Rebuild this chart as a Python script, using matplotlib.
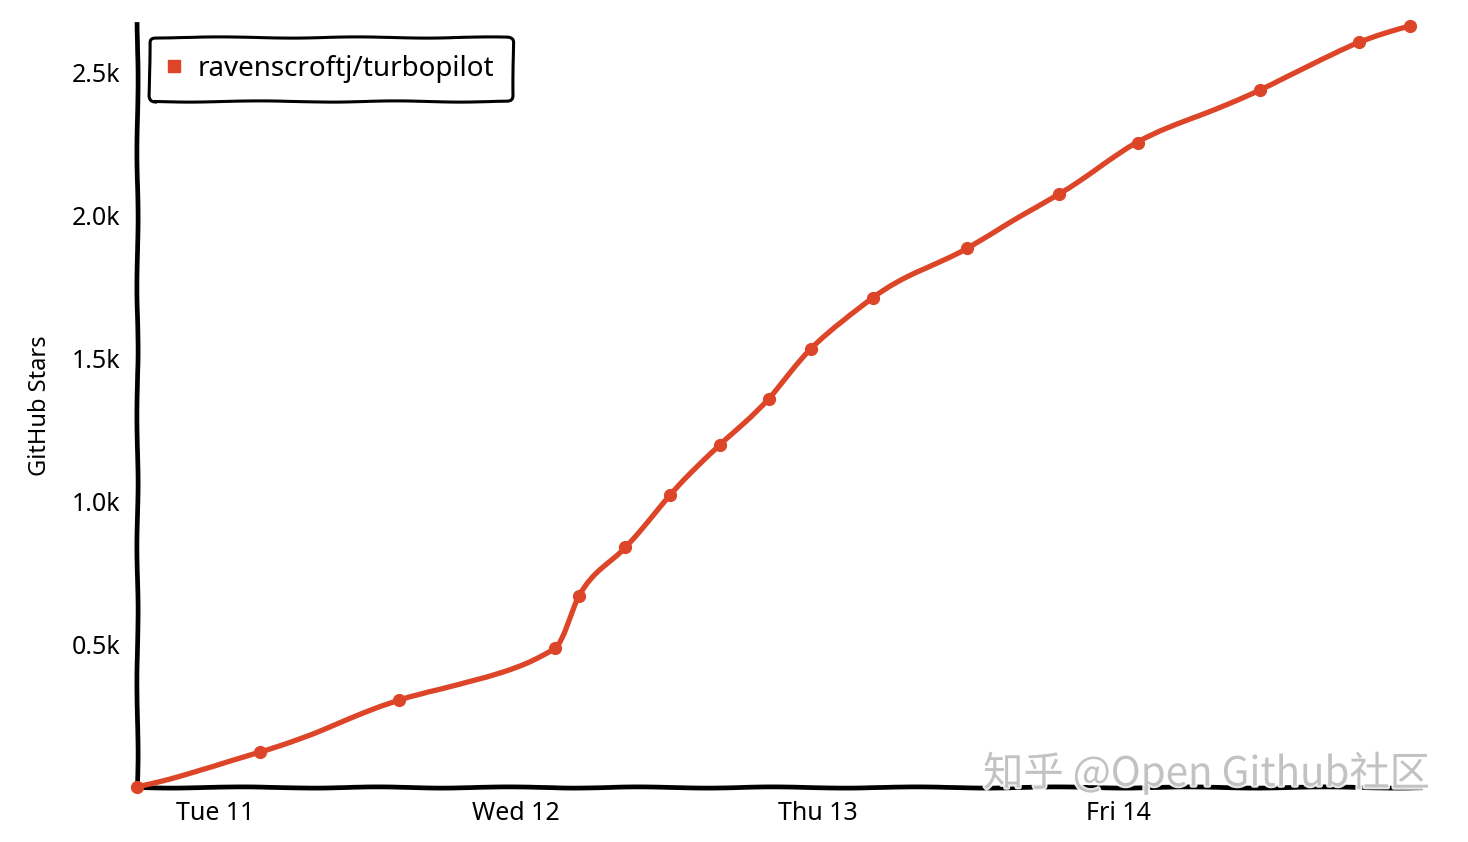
import matplotlib
matplotlib.use('Agg')
import matplotlib.pyplot as plt
import matplotlib.dates as mdates
import matplotlib.patheffects as pe
from matplotlib.path import Path
from matplotlib.patches import PathPatch
import numpy as np
import pandas as pd

# 数据（从图上读出来的）
dates = ['2023-04-10 17:47', '2023-04-11 03:35', '2023-04-11 14:40',
         '2023-04-12 03:03', '2023-04-12 05:02', '2023-04-12 08:42',
         '2023-04-12 12:17', '2023-04-12 16:12', '2023-04-12 20:09',
         '2023-04-12 23:30', '2023-04-13 04:26', '2023-04-13 11:53',
         '2023-04-13 19:15', '2023-04-14 01:30', '2023-04-14 11:17',
         '2023-04-14 19:09', '2023-04-14 23:14']
stars = [0, 121, 304, 487, 668, 840, 1021, 1198, 1359, 1534, 1712,
         1886, 2076, 2254, 2437, 2606, 2661]
repo = 'ravenscroftj/turbopilot'
y_ticks = [500, 1000, 1500, 2000, 2500]
y_labels = ['0.5k', '1.0k', '1.5k', '2.0k', '2.5k']
x_end = '2023-04-14 23:58'
y_top = 2668

red = '#dd4528'


# 跟 d3 的 curveMonotoneX 一样画平滑曲线（只算贝塞尔控制点）
def monotone_path(xs, ys):
    xs = np.asarray(xs, float)
    ys = np.asarray(ys, float)
    n = len(xs)
    h = np.diff(xs)
    s = np.diff(ys) / h
    t = np.zeros(n)
    for i in range(1, n - 1):
        p = (s[i - 1] * h[i] + s[i] * h[i - 1]) / (h[i - 1] + h[i])
        t[i] = (np.sign(s[i - 1]) + np.sign(s[i])) * min(abs(s[i - 1]), abs(s[i]), 0.5 * abs(p))
    t[0] = (3 * s[0] - t[1]) / 2
    t[-1] = (3 * s[-1] - t[-2]) / 2
    verts = [(xs[0], ys[0])]
    codes = [Path.MOVETO]
    for i in range(n - 1):
        dx = h[i] / 3
        verts += [(xs[i] + dx, ys[i] + dx * t[i]),
                  (xs[i + 1] - dx, ys[i + 1] - dx * t[i + 1]),
                  (xs[i + 1], ys[i + 1])]
        codes += [Path.CURVE4] * 3
    return Path(verts, codes)


with plt.xkcd(scale=0.6, length=150, randomness=2):
    plt.rcParams['font.family'] = ['Noto Sans', 'DejaVu Sans']
    plt.rcParams['path.effects'] = []

    fig = plt.figure(figsize=(14.68, 8.42), dpi=100)
    ax = fig.add_axes([0.0933, 0.0653, 0.967 - 0.0933, 0.971 - 0.0653])

    x = pd.to_datetime(dates)
    xn = mdates.date2num(x)
    curve = PathPatch(monotone_path(xn, stars), facecolor='none',
                      edgecolor=red, lw=3.8, capstyle='round',
                      clip_on=False, zorder=3)
    ax.add_patch(curve)
    ax.plot(x, stars, color=red, lw=0, marker='o', ms=8.5,
            label=repo, clip_on=False, zorder=4)

    ax.set_xlim(x[0], pd.to_datetime(x_end))
    ax.set_ylim(0, y_top)

    ax.spines['top'].set_visible(False)
    ax.spines['right'].set_visible(False)
    ax.spines['left'].set_linewidth(3.4)
    ax.spines['bottom'].set_linewidth(3.4)

    ax.xaxis.set_major_locator(mdates.DayLocator())
    ax.xaxis.set_major_formatter(mdates.DateFormatter('%a %d'))
    ax.set_yticks(y_ticks)
    ax.set_yticklabels(y_labels)
    ax.tick_params(axis='both', length=0, labelsize=18)
    ax.tick_params(axis='x', pad=10)
    ax.tick_params(axis='y', pad=12)
    ax.set_ylabel('GitHub Stars', fontsize=17, labelpad=14)

    leg = ax.legend(loc='upper left', bbox_to_anchor=(0.0, 1.0),
                    fontsize=20, handlelength=0.5, handletextpad=0.6,
                    markerscale=1.1, borderpad=0.65, borderaxespad=0.45,
                    fancybox=True, framealpha=1, edgecolor='black')
    leg.get_frame().set_linewidth(2.2)
    for hd in leg.legend_handles:
        hd.set_marker('s')

    # 水印
    fig.text(1430 / 1468, 1 - 773 / 842, '知乎 @Open Github社区',
             ha='right', va='center', fontsize=29, color='#bdbdbd',
             family=['Noto Sans CJK SC', 'DejaVu Sans'], alpha=0.9,
             path_effects=[pe.withStroke(linewidth=3, foreground='white')])

    fig.savefig('out.png', dpi=100)
